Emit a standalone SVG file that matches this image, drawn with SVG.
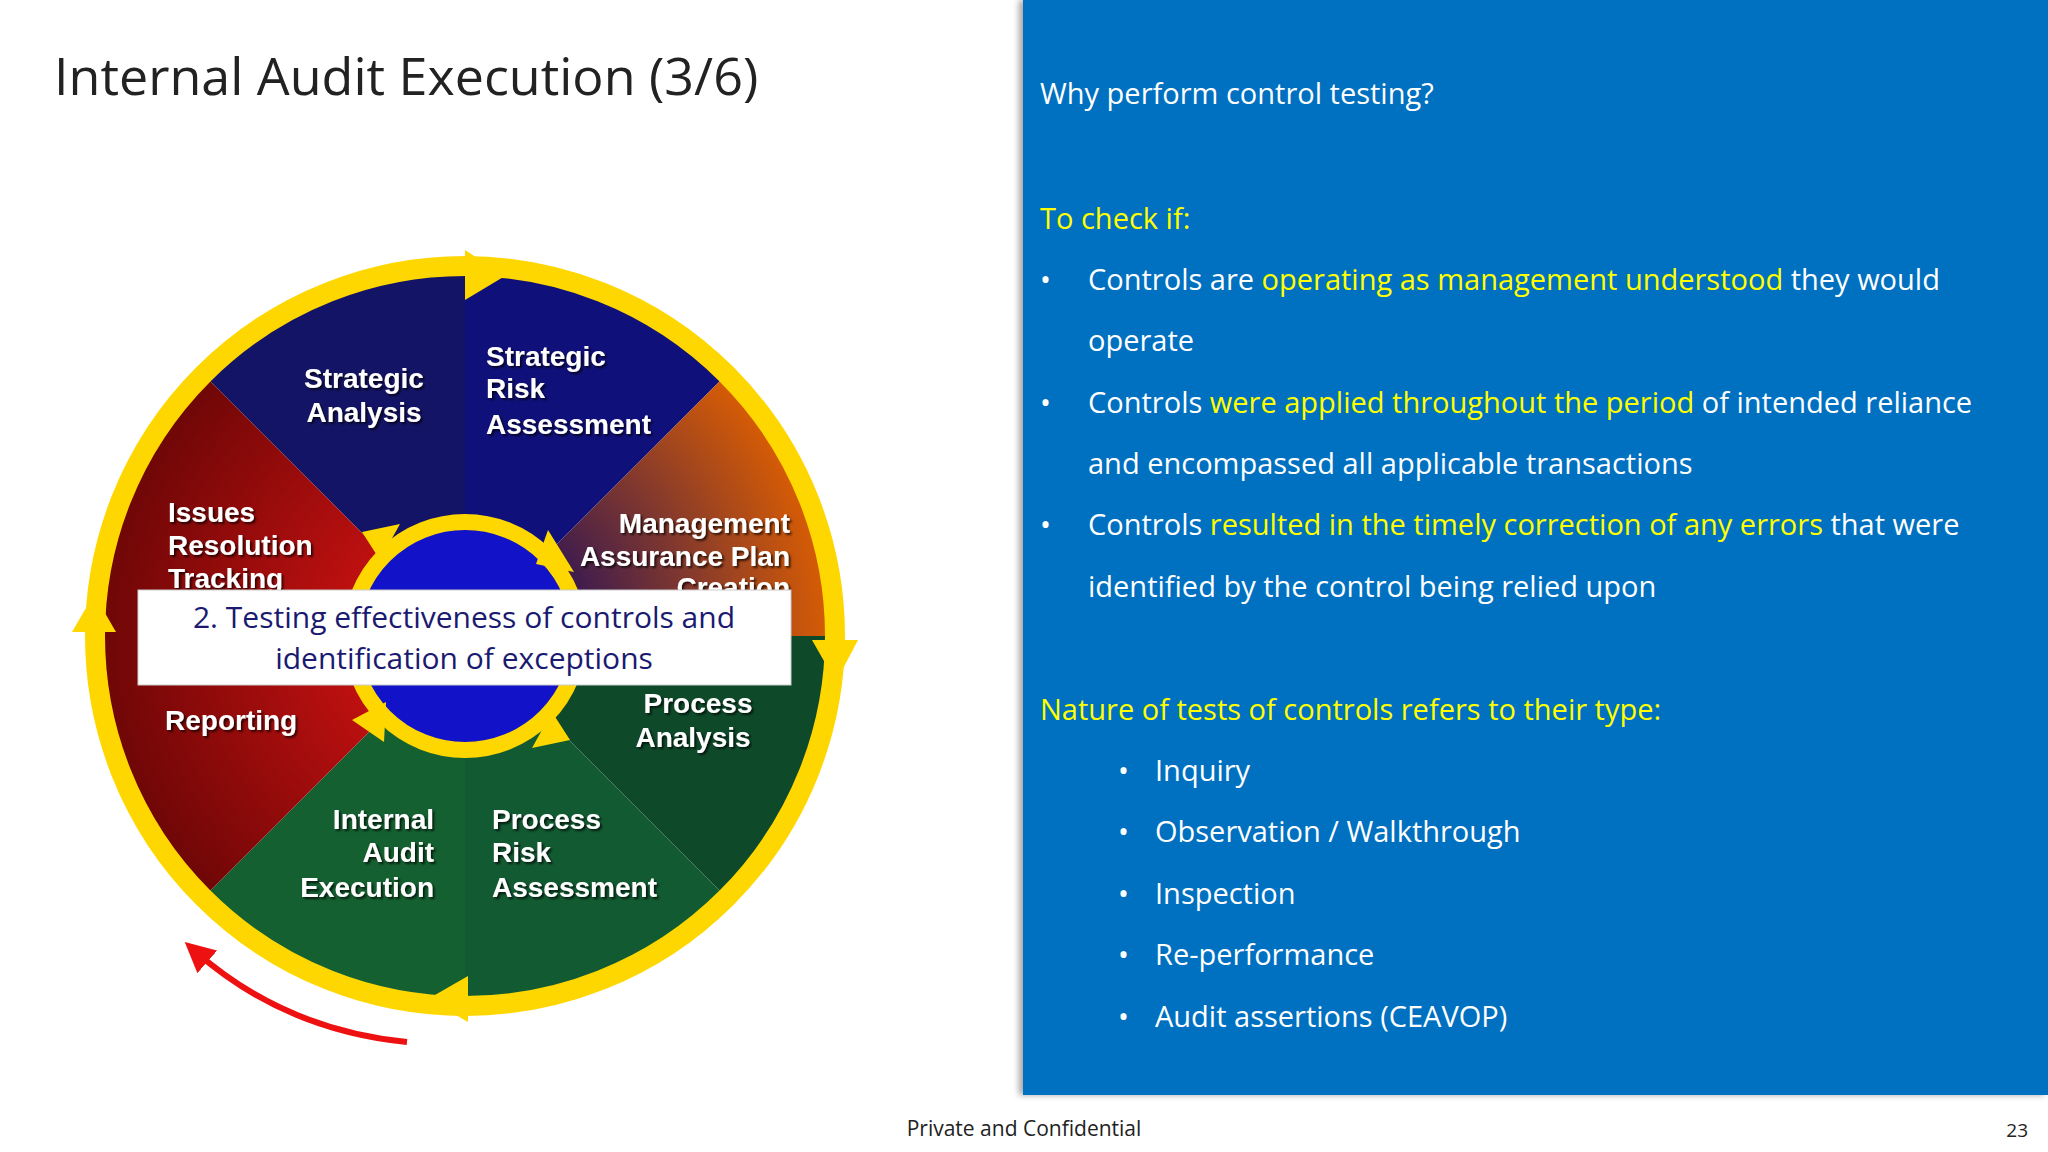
<svg xmlns="http://www.w3.org/2000/svg" width="2048" height="1152" viewBox="0 0 2048 1152">
<defs>
<style>
.t{font-family:"Open Sans","Noto Sans","Liberation Sans",sans-serif;}
.pw{font-family:"Open Sans","Liberation Sans",sans-serif;font-size:29px;fill:#fff;}
.y{fill:#ffff00;}
.seg{font-family:"Liberation Sans",Arial,sans-serif;font-weight:bold;font-size:28px;fill:#fff;}
.ring{fill:#ffd700;}
</style>
<radialGradient id="or" cx="465" cy="636" r="379" gradientUnits="userSpaceOnUse"><stop offset="0.3" stop-color="#3a1a50"/><stop offset="1" stop-color="#e06000"/></radialGradient>
<radialGradient id="rd" cx="465" cy="636" r="379" gradientUnits="userSpaceOnUse"><stop offset="0.3" stop-color="#c01010"/><stop offset="1" stop-color="#6a0606"/></radialGradient>
<filter id="sh"><feDropShadow dx="2" dy="2" stdDeviation="1" flood-color="#000" flood-opacity="0.7"/></filter>
<filter id="ps"><feDropShadow dx="-4" dy="0" stdDeviation="3" flood-color="#000" flood-opacity="0.35"/></filter>
<marker id="ra" viewBox="0 0 10 10" refX="5" refY="5" markerWidth="5" markerHeight="5" orient="auto-start-reverse"><path d="M0,0 L10,5 L0,10 z" fill="#ee1111"/></marker>
</defs>
<rect width="2048" height="1152" fill="#fff"/>
<text class="t" x="54" y="95" font-size="52" fill="#222">Internal Audit Execution (3/6)</text>

<g id="wheel">
<path d="M465,636 L197,368 A379,379 0 0 1 465,257 Z" fill="#141466"/>
<path d="M465,636 L465,257 A379,379 0 0 1 733,368 Z" fill="#10107a"/>
<path d="M465,636 L733,368 A379,379 0 0 1 844,636 Z" fill="url(#or)"/>
<path d="M465,636 L844,636 A379,379 0 0 1 733,904 Z" fill="#0e4a2a"/>
<path d="M465,636 L733,904 A379,379 0 0 1 465,1015 Z" fill="#125a32"/>
<path d="M465,636 L465,1015 A379,379 0 0 1 197,904 Z" fill="#146030"/>
<path d="M465,636 L197,904 A379,379 0 0 1 86,636 Z" fill="url(#rd)"/>
<path d="M465,636 L86,636 A379,379 0 0 1 197,368 Z" fill="url(#rd)"/>
<circle cx="465" cy="636" r="370" fill="none" stroke="#ffd700" stroke-width="20"/>
<polygon class="ring" points="465,250 505,276 465,300"/>
<polygon class="ring" points="812,640 858,640 836,682"/>
<polygon class="ring" points="468,976 428,999 468,1022"/>
<polygon class="ring" points="72,632 116,632 94,594"/>
<circle cx="465" cy="636" r="114" fill="#1212c8" stroke="#ffd700" stroke-width="16"/>
<polygon class="ring" points="362,532 400,524 380,560"/>
<polygon class="ring" points="548,530 574,572 536,564"/>
<polygon class="ring" points="570,740 532,748 552,712"/>
<polygon class="ring" points="352,720 386,702 384,742"/>
</g>

<g id="labels" filter="url(#sh)">
<text class="seg" text-anchor="middle" x="364" y="388">Strategic</text>
<text class="seg" text-anchor="middle" x="364" y="422">Analysis</text>
<text class="seg" x="486" y="366">Strategic</text>
<text class="seg" x="486" y="398">Risk</text>
<text class="seg" x="486" y="434">Assessment</text>
<text class="seg" text-anchor="end" x="790" y="533">Management</text>
<text class="seg" text-anchor="end" x="790" y="566">Assurance Plan</text>
<text class="seg" text-anchor="end" x="790" y="597">Creation</text>
<text class="seg" x="168" y="522">Issues</text>
<text class="seg" x="168" y="555">Resolution</text>
<text class="seg" x="168" y="588">Tracking</text>
<text class="seg" x="165" y="730">Reporting</text>
<text class="seg" text-anchor="middle" x="698" y="713">Process</text>
<text class="seg" text-anchor="middle" x="693" y="747">Analysis</text>
<text class="seg" text-anchor="end" x="434" y="829">Internal</text>
<text class="seg" text-anchor="end" x="434" y="862">Audit</text>
<text class="seg" text-anchor="end" x="434" y="897">Execution</text>
<text class="seg" x="492" y="829">Process</text>
<text class="seg" x="492" y="862">Risk</text>
<text class="seg" x="492" y="897">Assessment</text>
</g>

<g id="callout">
<rect x="138" y="590" width="653" height="95" fill="#fff" stroke="#ccc" stroke-width="1"/>
<text class="t" text-anchor="middle" x="464" y="628" font-size="30" fill="#1a1a70">2. Testing effectiveness of controls and</text>
<text class="t" text-anchor="middle" x="464" y="669" font-size="30" fill="#1a1a70">identification of exceptions</text>
</g>

<g id="connectors">
<path d="M407,1042 Q285,1030 196,952" fill="none" stroke="#ee1111" stroke-width="6" marker-end="url(#ra)"/>
</g>

<g id="panel">
<rect x="1023" y="0" width="1025" height="1095" fill="#0070C0" filter="url(#ps)"/>
<text class="pw" x="1040" y="104">Why perform control testing?</text>
<text class="pw y" x="1040" y="229">To check if:</text>
<text class="pw" x="1040" y="290" font-size="22">•</text>
<text class="pw" x="1088" y="290">Controls are <tspan class="y">operating as management understood</tspan> they would</text>
<text class="pw" x="1088" y="351">operate</text>
<text class="pw" x="1040" y="413" font-size="22">•</text>
<text class="pw" x="1088" y="413">Controls <tspan class="y">were applied throughout the period</tspan> of intended reliance</text>
<text class="pw" x="1088" y="474">and encompassed all applicable transactions</text>
<text class="pw" x="1040" y="535" font-size="22">•</text>
<text class="pw" x="1088" y="535">Controls <tspan class="y">resulted in the timely correction of any errors</tspan> that were</text>
<text class="pw" x="1088" y="597">identified by the control being relied upon</text>
<text class="pw y" x="1040" y="720">Nature of tests of controls refers to their type:</text>
<g class="pw">
<text x="1118" y="781">•</text><text x="1155" y="781">Inquiry</text>
<text x="1118" y="842">•</text><text x="1155" y="842">Observation / Walkthrough</text>
<text x="1118" y="904">•</text><text x="1155" y="904">Inspection</text>
<text x="1118" y="965">•</text><text x="1155" y="965">Re-performance</text>
<text x="1118" y="1027">•</text><text x="1155" y="1027">Audit assertions (CEAVOP)</text>
</g>
</g>
<text class="t" x="1024" y="1136" text-anchor="middle" font-size="21" fill="#222">Private and Confidential</text>
<text class="t" x="2028" y="1137" text-anchor="end" font-size="19" fill="#222">23</text>
</svg>
